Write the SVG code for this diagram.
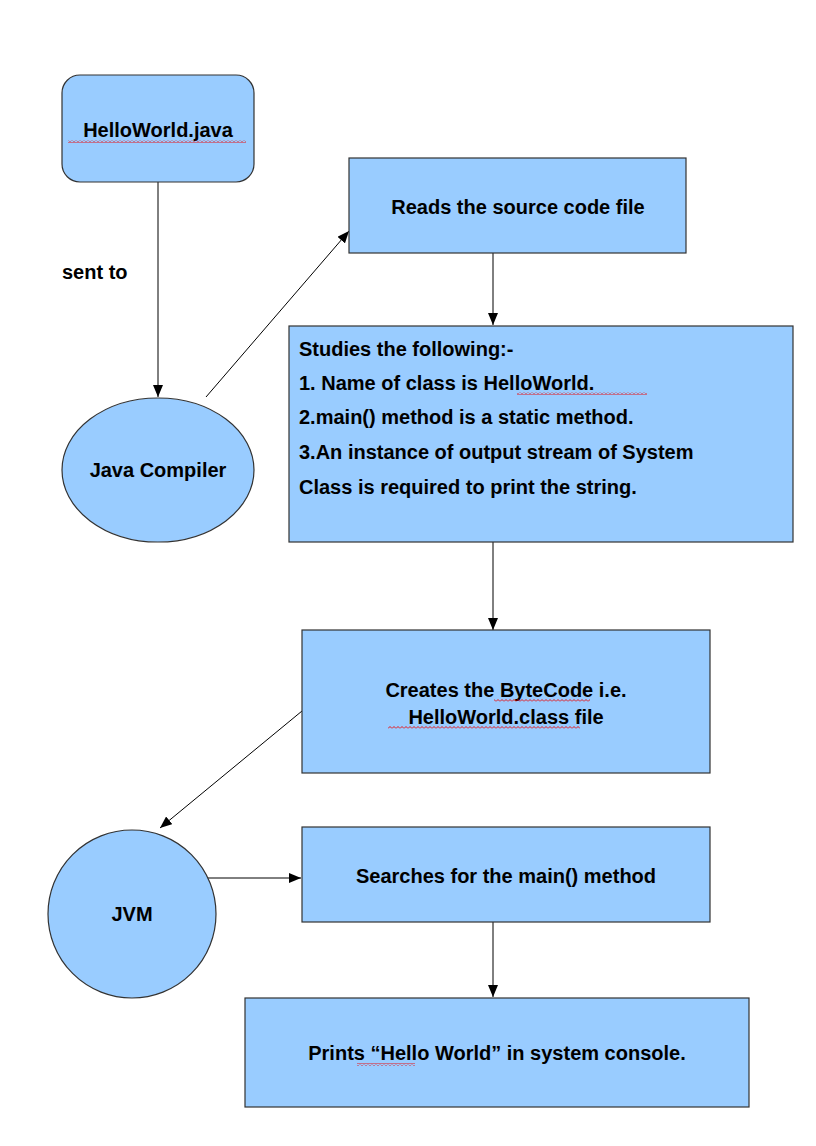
<svg xmlns="http://www.w3.org/2000/svg" width="816" height="1146" viewBox="0 0 816 1146">
<style>
.n{fill:#99ccff;stroke:#333;stroke-width:1.2}
.t{font-family:"Liberation Sans",Arial,sans-serif;font-size:20px;font-weight:bold;fill:#000}
.c{text-anchor:middle}
.e{stroke:#000;stroke-width:1;fill:none;marker-end:url(#a)}
</style>
<defs>
<marker id="a" markerWidth="12" markerHeight="10" refX="12" refY="5" orient="auto" markerUnits="userSpaceOnUse"><path d="M0,0L12,5L0,10z" fill="#000"/></marker>
<pattern id="w" width="4" height="3" patternUnits="userSpaceOnUse"><path d="M0,2.5L2,0.5L4,2.5" stroke="#e00" stroke-width="0.9" fill="none"/></pattern>
</defs>
<rect width="816" height="1146" fill="#fff"/>
<g id="connectors">
<line class="e" x1="158" y1="182" x2="158" y2="397"/>
<line class="e" x1="206" y1="397" x2="349" y2="231"/>
<line class="e" x1="493" y1="253" x2="493" y2="325"/>
<line class="e" x1="493" y1="542" x2="493" y2="630"/>
<line class="e" x1="302" y1="711" x2="160" y2="828"/>
<line class="e" x1="206" y1="878" x2="301" y2="878"/>
<line class="e" x1="493" y1="922" x2="493" y2="997"/>
</g>
<text class="t" x="62" y="279">sent to</text>
<g id="hello"><rect class="n" x="62" y="75" width="192" height="107" rx="18"/><text class="t c" x="158" y="137">HelloWorld.java</text><rect x="68" y="140" width="178" height="3" fill="url(#w)"/></g>
<g id="compiler"><ellipse class="n" cx="158" cy="470" rx="96" ry="72"/><text class="t c" x="158" y="477">Java Compiler</text></g>
<g id="reads"><rect class="n" x="349" y="158" width="337" height="95"/><text class="t c" x="518" y="214">Reads the source code file</text></g>
<g id="studies"><rect class="n" x="289" y="326" width="504" height="216"/>
<text class="t" x="299" y="356">Studies the following:-</text>
<text class="t" x="299" y="390">1. Name of class is HelloWorld.</text>
<text class="t" x="299" y="424">2.main() method is a static method.</text>
<text class="t" x="299" y="459">3.An instance of output stream of System</text>
<text class="t" x="299" y="494">Class is required to print the string.</text>
<rect x="517" y="392" width="130" height="3" fill="url(#w)"/></g>
<g id="creates"><rect class="n" x="302" y="630" width="408" height="143"/>
<text class="t c" x="506" y="697">Creates the ByteCode i.e.</text>
<text class="t c" x="506" y="724">HelloWorld.class file</text>
<rect x="494" y="699" width="96" height="3" fill="url(#w)"/>
<rect x="388" y="726" width="192" height="3" fill="url(#w)"/></g>
<g id="jvm"><ellipse class="n" cx="132" cy="914" rx="84" ry="84"/><text class="t c" x="132" y="921">JVM</text></g>
<g id="searches"><rect class="n" x="302" y="827" width="408" height="95"/><text class="t c" x="506" y="883">Searches for the main() method</text></g>
<g id="prints"><rect class="n" x="245" y="998" width="504" height="109"/><text class="t c" x="497" y="1060">Prints “Hello World” in system console.</text><rect x="357" y="1063" width="58" height="3" fill="url(#w)"/></g>
</svg>
